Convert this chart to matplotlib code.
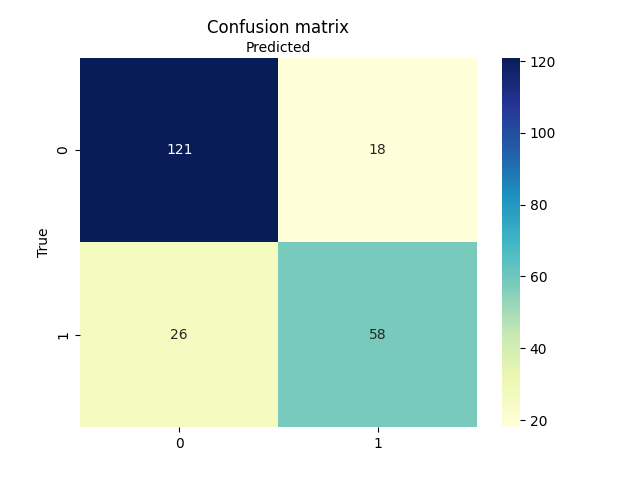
import numpy as np
import matplotlib
matplotlib.use("Agg")
import matplotlib.pyplot as plt
import seaborn as sns

labels = [0, 1]
cnf_matrix = np.array([[121, 18],
                       [26, 58]])

fig, ax = plt.subplots(figsize=(6.4, 4.8))
sns.heatmap(cnf_matrix, annot=True, cmap="YlGnBu", fmt="g",
            xticklabels=labels, yticklabels=labels, ax=ax)
ax.xaxis.set_label_position("top")
plt.title("Confusion matrix")
plt.ylabel("True")
plt.xlabel("Predicted")
plt.savefig("out.png", dpi=100)
